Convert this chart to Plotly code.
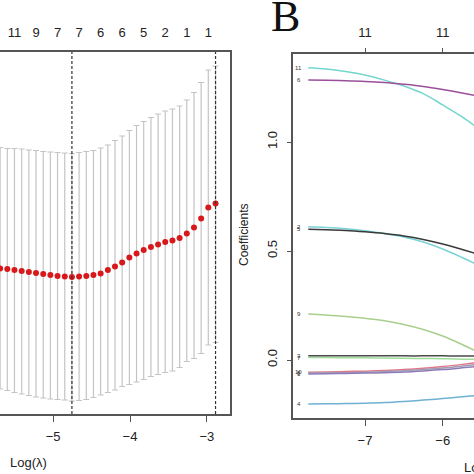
import plotly.graph_objects as go

# ---- panel A: cross-validated deviance vs log(lambda) ----
log_lambda = [-5.688, -5.595, -5.502, -5.408, -5.315, -5.222, -5.128, -5.035, -4.942, -4.848,
              -4.755, -4.662, -4.568, -4.475, -4.382, -4.288, -4.195, -4.102, -4.008, -3.915,
              -3.822, -3.728, -3.635, -3.542, -3.448, -3.355, -3.262, -3.168, -3.075, -2.982,
              -2.888]
cv_mean = [1.091, 1.090, 1.088, 1.086, 1.084, 1.082, 1.080, 1.078, 1.076, 1.075,
           1.074, 1.075, 1.076, 1.078, 1.081, 1.088, 1.095, 1.103, 1.113, 1.121,
           1.128, 1.134, 1.139, 1.144, 1.147, 1.152, 1.161, 1.173, 1.191, 1.213,
           1.221]
cv_upper = [1.333, 1.331, 1.331, 1.330, 1.328, 1.327, 1.325, 1.324, 1.323, 1.322,
            1.321, 1.323, 1.325, 1.327, 1.332, 1.338, 1.347, 1.356, 1.367, 1.377,
            1.385, 1.393, 1.400, 1.406, 1.410, 1.416, 1.428, 1.443, 1.463, 1.488,
            1.496]
cv_lower = [0.850, 0.847, 0.843, 0.840, 0.837, 0.834, 0.832, 0.830, 0.829, 0.828,
            0.826, 0.827, 0.829, 0.833, 0.838, 0.843, 0.848, 0.855, 0.859, 0.864,
            0.869, 0.875, 0.879, 0.883, 0.886, 0.893, 0.905, 0.911, 0.921, 0.938,
            0.943]
df_at = [-5.502, -5.222, -4.942, -4.662, -4.382, -4.102, -3.822, -3.542, -3.262, -2.982]
df_labels = ["11", "9", "7", "7", "6", "6", "5", "2", "1", "1"]
lambda_min = -4.755
lambda_1se = -2.888

# ---- panel B: coefficient paths ----
path_lambda = [-7.73, -7.5, -7.25, -7.0, -6.75, -6.5, -6.25, -6.0, -5.75, -5.55]
coef_11 = [1.341, 1.335, 1.323, 1.307, 1.284, 1.257, 1.222, 1.170, 1.115, 1.064]
coef_6 = [1.284, 1.283, 1.281, 1.278, 1.273, 1.265, 1.255, 1.241, 1.225, 1.211]
coef_5 = [0.600, 0.597, 0.594, 0.588, 0.580, 0.569, 0.553, 0.532, 0.507, 0.486]
coef_2 = [0.611, 0.608, 0.602, 0.593, 0.580, 0.564, 0.541, 0.509, 0.470, 0.436]
coef_9 = [0.211, 0.206, 0.200, 0.191, 0.180, 0.163, 0.140, 0.110, 0.071, 0.037]
coef_3 = [0.020, 0.020, 0.020, 0.020, 0.020, 0.019, 0.019, 0.019, 0.018, 0.018]
coef_7 = [0.011, 0.011, 0.010, 0.010, 0.009, 0.008, 0.007, 0.006, 0.004, 0.003]
coef_10 = [-0.056, -0.055, -0.053, -0.051, -0.048, -0.044, -0.038, -0.030, -0.020, -0.011]
coef_8 = [-0.060, -0.059, -0.058, -0.056, -0.053, -0.049, -0.044, -0.037, -0.028, -0.020]
coef_1 = [-0.064, -0.063, -0.062, -0.060, -0.058, -0.055, -0.050, -0.044, -0.036, -0.029]
coef_4 = [-0.202, -0.201, -0.200, -0.198, -0.195, -0.190, -0.184, -0.177, -0.169, -0.162]

paths = [
    ("11", coef_11, "#74d6cf"),
    ("6", coef_6, "#9b4f9b"),
    ("2", coef_2, "#79d3d8"),
    ("5", coef_5, "#3a3a3a"),
    ("9", coef_9, "#a9cf8f"),
    ("7", coef_7, "#9edc9a"),
    ("3", coef_3, "#4a4a4a"),
    ("10", coef_10, "#e07a8a"),
    ("8", coef_8, "#a39bb5"),
    ("1", coef_1, "#8c7db8"),
    ("4", coef_4, "#6fb0d3"),
]

W = 474
font = dict(family="Liberation Sans, Arial, sans-serif", size=13, color="#222")
axis_col = "#555"

fig = go.Figure()

fig.add_trace(go.Scatter(
    x=log_lambda, y=cv_mean, mode="markers",
    marker=dict(color="#d7191c", size=6),
    error_y=dict(type="data", symmetric=False,
                 array=[u - m for u, m in zip(cv_upper, cv_mean)],
                 arrayminus=[m - l for m, l in zip(cv_mean, cv_lower)],
                 color="#c4c4c4", thickness=1.2, width=3),
    xaxis="x", yaxis="y", showlegend=False, hoverinfo="skip",
))

for name, coefs, col in paths:
    fig.add_trace(go.Scatter(
        x=path_lambda, y=coefs, mode="lines", line=dict(color=col, width=1.5, shape="spline"),
        xaxis="x2", yaxis="y2", showlegend=False,
    ))

# invisible traces so the top (df) axes get drawn
fig.add_trace(go.Scatter(x=df_at, y=cv_mean[:len(df_at)], mode="markers", opacity=0,
                         xaxis="x3", yaxis="y", showlegend=False, hoverinfo="skip"))
fig.add_trace(go.Scatter(x=[-7, -6], y=[coef_3[0], coef_3[0]], mode="markers", opacity=0,
                         xaxis="x4", yaxis="y2", showlegend=False, hoverinfo="skip"))

for xv in [lambda_min, lambda_1se]:
    fig.add_shape(type="line", xref="x", yref="y domain", x0=xv, x1=xv, y0=0, y1=1,
                  line=dict(color="#333", width=1.2, dash="3px,2px"))

annotations = []
for name, coefs, col in paths:
    annotations.append(dict(x=-7.85, y=coefs[0], xref="x2", yref="y2", text=name,
                            showarrow=False, font=dict(size=6, color="#333")))
annotations += [
    dict(x=28 / W, y=1 - 462 / W, xref="paper", yref="paper", text="Log(λ)",
         xanchor="center", yanchor="middle", showarrow=False, font=font),
    dict(x=285 / W, y=1 - 16 / W, xref="paper", yref="paper", text="B",
         xanchor="center", yanchor="middle", showarrow=False,
         font=dict(family="Liberation Serif, Times New Roman, serif", size=44, color="#111")),
    dict(x=244 / W, y=1 - 235 / W, xref="paper", yref="paper", text="Coefficients",
         xanchor="center", yanchor="middle", textangle=-90, showarrow=False,
         font=dict(family=font["family"], size=12, color="#222")),
    dict(x=462 / W, y=1 - 467 / W, xref="paper", yref="paper", text="Log Lambda",
         xanchor="left", yanchor="middle", showarrow=False, font=font),
]

common = dict(showgrid=False, zeroline=False, linecolor=axis_col, linewidth=1.5,
              tickcolor=axis_col, tickfont=font)

fig.update_layout(
    width=W, height=W, margin=dict(l=0, r=0, t=0, b=0),
    paper_bgcolor="white", plot_bgcolor="white", font=font,
    xaxis=dict(domain=[0, 230 / W], range=[-5.69, -2.70], tickvals=[-5, -4, -3],
               ticks="outside", ticklen=6, showline=True, ticklabelstandoff=4, **common),
    xaxis3=dict(overlaying="x", side="top", range=[-5.69, -2.70], tickvals=df_at,
                ticktext=df_labels, ticks="", showline=True, ticklabelstandoff=8,
                anchor="y", **common),
    yaxis=dict(domain=[1 - 414 / W, 1 - 52 / W], range=[0.8, 1.524], side="right",
               showline=True, showticklabels=False, ticks="", **common),
    xaxis2=dict(domain=[293.3 / W, 1], range=[-7.923, -5.597], tickvals=[-7, -6],
                ticks="outside", ticklen=6, showline=True, anchor="y2", ticklabelstandoff=4,
                **common),
    xaxis4=dict(overlaying="x2", side="top", range=[-7.923, -5.597], tickvals=[-7, -6],
                ticktext=["11", "11"], ticks="outside", ticklen=4, showline=True,
                anchor="y2", ticklabelstandoff=6, **common),
    yaxis2=dict(domain=[1 - 418 / W, 1 - 53.5 / W], range=[-0.266, 1.406],
                tickvals=[0, 0.5, 1.0], ticktext=["0.0", "0.5", "1.0"], tickangle=-90,
                ticks="outside", ticklen=5, showline=True, anchor="x2", ticklabelstandoff=4,
                **common),
    annotations=annotations,
)

fig.write_html("out.html", config={"displayModeBar": False},
               post_script="document.body.style.margin='0';")
